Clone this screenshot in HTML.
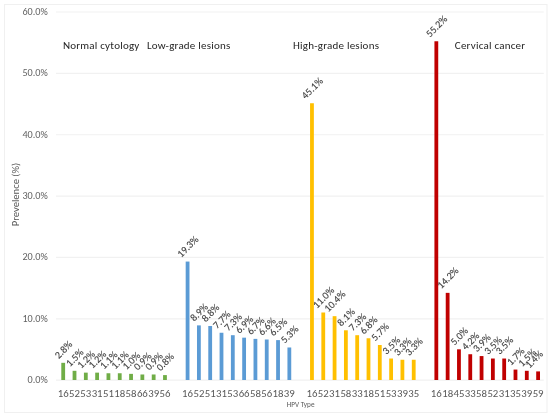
<!DOCTYPE html><html><head><meta charset="utf-8"><style>html,body{margin:0;padding:0;background:#fff;width:550px;height:417px;overflow:hidden}svg{display:block}text{font-family:Carlito,"Liberation Sans",sans-serif}</style></head><body>
<svg width="550" height="417" viewBox="0 0 550 417">
<rect x="0" y="0" width="550" height="417" fill="#fff"/>
<rect x="4.5" y="4.5" width="542.5" height="408" fill="none" stroke="#f0f0f0" stroke-width="1.1"/>
<line x1="56" x2="543.75" y1="380.20" y2="380.20" stroke="#f1f1f1" stroke-width="1.2"/>
<line x1="56" x2="543.75" y1="318.83" y2="318.83" stroke="#f1f1f1" stroke-width="1.2"/>
<line x1="56" x2="543.75" y1="257.47" y2="257.47" stroke="#f1f1f1" stroke-width="1.2"/>
<line x1="56" x2="543.75" y1="196.10" y2="196.10" stroke="#f1f1f1" stroke-width="1.2"/>
<line x1="56" x2="543.75" y1="134.73" y2="134.73" stroke="#f1f1f1" stroke-width="1.2"/>
<line x1="56" x2="543.75" y1="73.37" y2="73.37" stroke="#f1f1f1" stroke-width="1.2"/>
<line x1="56" x2="543.75" y1="12.00" y2="12.00" stroke="#f1f1f1" stroke-width="1.2"/>
<text x="47.8" y="383.00" font-size="10.2" fill="#636363" text-anchor="end" textLength="20.19" lengthAdjust="spacingAndGlyphs">0.0%</text>
<text x="47.8" y="321.63" font-size="10.2" fill="#636363" text-anchor="end" textLength="25.36" lengthAdjust="spacingAndGlyphs">10.0%</text>
<text x="47.8" y="260.27" font-size="10.2" fill="#636363" text-anchor="end" textLength="25.36" lengthAdjust="spacingAndGlyphs">20.0%</text>
<text x="47.8" y="198.90" font-size="10.2" fill="#636363" text-anchor="end" textLength="25.36" lengthAdjust="spacingAndGlyphs">30.0%</text>
<text x="47.8" y="137.53" font-size="10.2" fill="#636363" text-anchor="end" textLength="25.36" lengthAdjust="spacingAndGlyphs">40.0%</text>
<text x="47.8" y="76.17" font-size="10.2" fill="#636363" text-anchor="end" textLength="25.36" lengthAdjust="spacingAndGlyphs">50.0%</text>
<text x="47.8" y="14.80" font-size="10.2" fill="#636363" text-anchor="end" textLength="25.36" lengthAdjust="spacingAndGlyphs">60.0%</text>
<rect x="61.30" y="362.82" width="3.8" height="17.18" fill="#70AD47"/>
<text x="63.20" y="396.8" font-size="10.8" fill="#595959" text-anchor="middle" textLength="10.95" lengthAdjust="spacingAndGlyphs">16</text>
<text class="dl" transform="translate(63.50,349.75) rotate(-45)" x="0" y="3.28" font-size="10.2" fill="#404040" stroke="#404040" stroke-width="0.12" text-anchor="middle" textLength="20.19" lengthAdjust="spacingAndGlyphs">2.8%</text>
<rect x="72.61" y="370.80" width="3.8" height="9.20" fill="#70AD47"/>
<text x="74.51" y="396.8" font-size="10.8" fill="#595959" text-anchor="middle" textLength="10.95" lengthAdjust="spacingAndGlyphs">52</text>
<text class="dl" transform="translate(74.81,357.73) rotate(-45)" x="0" y="3.28" font-size="10.2" fill="#404040" stroke="#404040" stroke-width="0.12" text-anchor="middle" textLength="20.19" lengthAdjust="spacingAndGlyphs">1.5%</text>
<rect x="83.92" y="372.64" width="3.8" height="7.36" fill="#70AD47"/>
<text x="85.82" y="396.8" font-size="10.8" fill="#595959" text-anchor="middle" textLength="10.95" lengthAdjust="spacingAndGlyphs">53</text>
<text class="dl" transform="translate(86.12,359.57) rotate(-45)" x="0" y="3.28" font-size="10.2" fill="#404040" stroke="#404040" stroke-width="0.12" text-anchor="middle" textLength="20.19" lengthAdjust="spacingAndGlyphs">1.2%</text>
<rect x="95.22" y="372.64" width="3.8" height="7.36" fill="#70AD47"/>
<text x="97.12" y="396.8" font-size="10.8" fill="#595959" text-anchor="middle" textLength="10.95" lengthAdjust="spacingAndGlyphs">31</text>
<text class="dl" transform="translate(97.42,359.57) rotate(-45)" x="0" y="3.28" font-size="10.2" fill="#404040" stroke="#404040" stroke-width="0.12" text-anchor="middle" textLength="20.19" lengthAdjust="spacingAndGlyphs">1.2%</text>
<rect x="106.53" y="373.25" width="3.8" height="6.75" fill="#70AD47"/>
<text x="108.43" y="396.8" font-size="10.8" fill="#595959" text-anchor="middle" textLength="10.95" lengthAdjust="spacingAndGlyphs">51</text>
<text class="dl" transform="translate(108.73,360.18) rotate(-45)" x="0" y="3.28" font-size="10.2" fill="#404040" stroke="#404040" stroke-width="0.12" text-anchor="middle" textLength="20.19" lengthAdjust="spacingAndGlyphs">1.1%</text>
<rect x="117.84" y="373.25" width="3.8" height="6.75" fill="#70AD47"/>
<text x="119.74" y="396.8" font-size="10.8" fill="#595959" text-anchor="middle" textLength="10.95" lengthAdjust="spacingAndGlyphs">18</text>
<text class="dl" transform="translate(120.04,360.18) rotate(-45)" x="0" y="3.28" font-size="10.2" fill="#404040" stroke="#404040" stroke-width="0.12" text-anchor="middle" textLength="20.19" lengthAdjust="spacingAndGlyphs">1.1%</text>
<rect x="129.15" y="373.86" width="3.8" height="6.14" fill="#70AD47"/>
<text x="131.05" y="396.8" font-size="10.8" fill="#595959" text-anchor="middle" textLength="10.95" lengthAdjust="spacingAndGlyphs">58</text>
<text class="dl" transform="translate(131.35,360.80) rotate(-45)" x="0" y="3.28" font-size="10.2" fill="#404040" stroke="#404040" stroke-width="0.12" text-anchor="middle" textLength="20.19" lengthAdjust="spacingAndGlyphs">1.0%</text>
<rect x="140.45" y="374.48" width="3.8" height="5.52" fill="#70AD47"/>
<text x="142.35" y="396.8" font-size="10.8" fill="#595959" text-anchor="middle" textLength="10.95" lengthAdjust="spacingAndGlyphs">66</text>
<text class="dl" transform="translate(142.65,361.41) rotate(-45)" x="0" y="3.28" font-size="10.2" fill="#404040" stroke="#404040" stroke-width="0.12" text-anchor="middle" textLength="20.19" lengthAdjust="spacingAndGlyphs">0.9%</text>
<rect x="151.76" y="374.48" width="3.8" height="5.52" fill="#70AD47"/>
<text x="153.66" y="396.8" font-size="10.8" fill="#595959" text-anchor="middle" textLength="10.95" lengthAdjust="spacingAndGlyphs">39</text>
<text class="dl" transform="translate(153.96,361.41) rotate(-45)" x="0" y="3.28" font-size="10.2" fill="#404040" stroke="#404040" stroke-width="0.12" text-anchor="middle" textLength="20.19" lengthAdjust="spacingAndGlyphs">0.9%</text>
<rect x="163.07" y="375.09" width="3.8" height="4.91" fill="#70AD47"/>
<text x="164.97" y="396.8" font-size="10.8" fill="#595959" text-anchor="middle" textLength="10.95" lengthAdjust="spacingAndGlyphs">56</text>
<text class="dl" transform="translate(165.27,362.02) rotate(-45)" x="0" y="3.28" font-size="10.2" fill="#404040" stroke="#404040" stroke-width="0.12" text-anchor="middle" textLength="20.19" lengthAdjust="spacingAndGlyphs">0.8%</text>
<rect x="185.68" y="261.56" width="3.8" height="118.44" fill="#5B9BD5"/>
<text x="187.58" y="396.8" font-size="10.8" fill="#595959" text-anchor="middle" textLength="10.95" lengthAdjust="spacingAndGlyphs">16</text>
<text class="dl" transform="translate(187.88,246.67) rotate(-45)" x="0" y="3.28" font-size="10.2" fill="#404040" stroke="#404040" stroke-width="0.12" text-anchor="middle" textLength="25.36" lengthAdjust="spacingAndGlyphs">19.3%</text>
<rect x="196.99" y="325.38" width="3.8" height="54.62" fill="#5B9BD5"/>
<text x="198.89" y="396.8" font-size="10.8" fill="#595959" text-anchor="middle" textLength="10.95" lengthAdjust="spacingAndGlyphs">52</text>
<text class="dl" transform="translate(199.19,312.32) rotate(-45)" x="0" y="3.28" font-size="10.2" fill="#404040" stroke="#404040" stroke-width="0.12" text-anchor="middle" textLength="20.19" lengthAdjust="spacingAndGlyphs">8.9%</text>
<rect x="208.29" y="326.00" width="3.8" height="54.00" fill="#5B9BD5"/>
<text x="210.19" y="396.8" font-size="10.8" fill="#595959" text-anchor="middle" textLength="10.95" lengthAdjust="spacingAndGlyphs">51</text>
<text class="dl" transform="translate(210.49,312.93) rotate(-45)" x="0" y="3.28" font-size="10.2" fill="#404040" stroke="#404040" stroke-width="0.12" text-anchor="middle" textLength="20.19" lengthAdjust="spacingAndGlyphs">8.8%</text>
<rect x="219.60" y="332.75" width="3.8" height="47.25" fill="#5B9BD5"/>
<text x="221.50" y="396.8" font-size="10.8" fill="#595959" text-anchor="middle" textLength="10.95" lengthAdjust="spacingAndGlyphs">31</text>
<text class="dl" transform="translate(221.80,319.68) rotate(-45)" x="0" y="3.28" font-size="10.2" fill="#404040" stroke="#404040" stroke-width="0.12" text-anchor="middle" textLength="20.19" lengthAdjust="spacingAndGlyphs">7.7%</text>
<rect x="230.91" y="335.20" width="3.8" height="44.80" fill="#5B9BD5"/>
<text x="232.81" y="396.8" font-size="10.8" fill="#595959" text-anchor="middle" textLength="10.95" lengthAdjust="spacingAndGlyphs">53</text>
<text class="dl" transform="translate(233.11,322.14) rotate(-45)" x="0" y="3.28" font-size="10.2" fill="#404040" stroke="#404040" stroke-width="0.12" text-anchor="middle" textLength="20.19" lengthAdjust="spacingAndGlyphs">7.3%</text>
<rect x="242.22" y="337.66" width="3.8" height="42.34" fill="#5B9BD5"/>
<text x="244.12" y="396.8" font-size="10.8" fill="#595959" text-anchor="middle" textLength="10.95" lengthAdjust="spacingAndGlyphs">66</text>
<text class="dl" transform="translate(244.42,324.59) rotate(-45)" x="0" y="3.28" font-size="10.2" fill="#404040" stroke="#404040" stroke-width="0.12" text-anchor="middle" textLength="20.19" lengthAdjust="spacingAndGlyphs">6.9%</text>
<rect x="253.52" y="338.88" width="3.8" height="41.12" fill="#5B9BD5"/>
<text x="255.42" y="396.8" font-size="10.8" fill="#595959" text-anchor="middle" textLength="10.95" lengthAdjust="spacingAndGlyphs">58</text>
<text class="dl" transform="translate(255.72,325.82) rotate(-45)" x="0" y="3.28" font-size="10.2" fill="#404040" stroke="#404040" stroke-width="0.12" text-anchor="middle" textLength="20.19" lengthAdjust="spacingAndGlyphs">6.7%</text>
<rect x="264.83" y="339.50" width="3.8" height="40.50" fill="#5B9BD5"/>
<text x="266.73" y="396.8" font-size="10.8" fill="#595959" text-anchor="middle" textLength="10.95" lengthAdjust="spacingAndGlyphs">56</text>
<text class="dl" transform="translate(267.03,326.43) rotate(-45)" x="0" y="3.28" font-size="10.2" fill="#404040" stroke="#404040" stroke-width="0.12" text-anchor="middle" textLength="20.19" lengthAdjust="spacingAndGlyphs">6.6%</text>
<rect x="276.14" y="340.11" width="3.8" height="39.89" fill="#5B9BD5"/>
<text x="278.04" y="396.8" font-size="10.8" fill="#595959" text-anchor="middle" textLength="10.95" lengthAdjust="spacingAndGlyphs">18</text>
<text class="dl" transform="translate(278.34,327.05) rotate(-45)" x="0" y="3.28" font-size="10.2" fill="#404040" stroke="#404040" stroke-width="0.12" text-anchor="middle" textLength="20.19" lengthAdjust="spacingAndGlyphs">6.5%</text>
<rect x="287.44" y="347.48" width="3.8" height="32.52" fill="#5B9BD5"/>
<text x="289.34" y="396.8" font-size="10.8" fill="#595959" text-anchor="middle" textLength="10.95" lengthAdjust="spacingAndGlyphs">39</text>
<text class="dl" transform="translate(289.64,334.41) rotate(-45)" x="0" y="3.28" font-size="10.2" fill="#404040" stroke="#404040" stroke-width="0.12" text-anchor="middle" textLength="20.19" lengthAdjust="spacingAndGlyphs">5.3%</text>
<rect x="310.06" y="103.24" width="3.8" height="276.76" fill="#FFC000"/>
<text x="311.96" y="396.8" font-size="10.8" fill="#595959" text-anchor="middle" textLength="10.95" lengthAdjust="spacingAndGlyphs">16</text>
<text class="dl" transform="translate(312.26,88.34) rotate(-45)" x="0" y="3.28" font-size="10.2" fill="#404040" stroke="#404040" stroke-width="0.12" text-anchor="middle" textLength="25.36" lengthAdjust="spacingAndGlyphs">45.1%</text>
<rect x="321.36" y="312.50" width="3.8" height="67.50" fill="#FFC000"/>
<text x="323.26" y="396.8" font-size="10.8" fill="#595959" text-anchor="middle" textLength="10.95" lengthAdjust="spacingAndGlyphs">52</text>
<text class="dl" transform="translate(323.56,297.60) rotate(-45)" x="0" y="3.28" font-size="10.2" fill="#404040" stroke="#404040" stroke-width="0.12" text-anchor="middle" textLength="25.36" lengthAdjust="spacingAndGlyphs">11.0%</text>
<rect x="332.67" y="316.18" width="3.8" height="63.82" fill="#FFC000"/>
<text x="334.57" y="396.8" font-size="10.8" fill="#595959" text-anchor="middle" textLength="10.95" lengthAdjust="spacingAndGlyphs">31</text>
<text class="dl" transform="translate(334.87,301.28) rotate(-45)" x="0" y="3.28" font-size="10.2" fill="#404040" stroke="#404040" stroke-width="0.12" text-anchor="middle" textLength="25.36" lengthAdjust="spacingAndGlyphs">10.4%</text>
<rect x="343.98" y="330.29" width="3.8" height="49.71" fill="#FFC000"/>
<text x="345.88" y="396.8" font-size="10.8" fill="#595959" text-anchor="middle" textLength="10.95" lengthAdjust="spacingAndGlyphs">58</text>
<text class="dl" transform="translate(346.18,317.23) rotate(-45)" x="0" y="3.28" font-size="10.2" fill="#404040" stroke="#404040" stroke-width="0.12" text-anchor="middle" textLength="20.19" lengthAdjust="spacingAndGlyphs">8.1%</text>
<rect x="355.29" y="335.20" width="3.8" height="44.80" fill="#FFC000"/>
<text x="357.19" y="396.8" font-size="10.8" fill="#595959" text-anchor="middle" textLength="10.95" lengthAdjust="spacingAndGlyphs">33</text>
<text class="dl" transform="translate(357.49,322.14) rotate(-45)" x="0" y="3.28" font-size="10.2" fill="#404040" stroke="#404040" stroke-width="0.12" text-anchor="middle" textLength="20.19" lengthAdjust="spacingAndGlyphs">7.3%</text>
<rect x="366.59" y="338.27" width="3.8" height="41.73" fill="#FFC000"/>
<text x="368.49" y="396.8" font-size="10.8" fill="#595959" text-anchor="middle" textLength="10.95" lengthAdjust="spacingAndGlyphs">18</text>
<text class="dl" transform="translate(368.79,325.20) rotate(-45)" x="0" y="3.28" font-size="10.2" fill="#404040" stroke="#404040" stroke-width="0.12" text-anchor="middle" textLength="20.19" lengthAdjust="spacingAndGlyphs">6.8%</text>
<rect x="377.90" y="345.02" width="3.8" height="34.98" fill="#FFC000"/>
<text x="379.80" y="396.8" font-size="10.8" fill="#595959" text-anchor="middle" textLength="10.95" lengthAdjust="spacingAndGlyphs">51</text>
<text class="dl" transform="translate(380.10,331.95) rotate(-45)" x="0" y="3.28" font-size="10.2" fill="#404040" stroke="#404040" stroke-width="0.12" text-anchor="middle" textLength="20.19" lengthAdjust="spacingAndGlyphs">5.7%</text>
<rect x="389.21" y="358.52" width="3.8" height="21.48" fill="#FFC000"/>
<text x="391.11" y="396.8" font-size="10.8" fill="#595959" text-anchor="middle" textLength="10.95" lengthAdjust="spacingAndGlyphs">53</text>
<text class="dl" transform="translate(391.41,345.46) rotate(-45)" x="0" y="3.28" font-size="10.2" fill="#404040" stroke="#404040" stroke-width="0.12" text-anchor="middle" textLength="20.19" lengthAdjust="spacingAndGlyphs">3.5%</text>
<rect x="400.51" y="359.75" width="3.8" height="20.25" fill="#FFC000"/>
<text x="402.41" y="396.8" font-size="10.8" fill="#595959" text-anchor="middle" textLength="10.95" lengthAdjust="spacingAndGlyphs">39</text>
<text class="dl" transform="translate(402.71,346.68) rotate(-45)" x="0" y="3.28" font-size="10.2" fill="#404040" stroke="#404040" stroke-width="0.12" text-anchor="middle" textLength="20.19" lengthAdjust="spacingAndGlyphs">3.3%</text>
<rect x="411.82" y="359.75" width="3.8" height="20.25" fill="#FFC000"/>
<text x="413.72" y="396.8" font-size="10.8" fill="#595959" text-anchor="middle" textLength="10.95" lengthAdjust="spacingAndGlyphs">35</text>
<text class="dl" transform="translate(414.02,346.68) rotate(-45)" x="0" y="3.28" font-size="10.2" fill="#404040" stroke="#404040" stroke-width="0.12" text-anchor="middle" textLength="20.19" lengthAdjust="spacingAndGlyphs">3.3%</text>
<rect x="434.43" y="41.26" width="3.8" height="338.74" fill="#C00000"/>
<text x="436.33" y="396.8" font-size="10.8" fill="#595959" text-anchor="middle" textLength="10.95" lengthAdjust="spacingAndGlyphs">16</text>
<text class="dl" transform="translate(436.63,26.36) rotate(-45)" x="0" y="3.28" font-size="10.2" fill="#404040" stroke="#404040" stroke-width="0.12" text-anchor="middle" textLength="25.36" lengthAdjust="spacingAndGlyphs">55.2%</text>
<rect x="445.74" y="292.86" width="3.8" height="87.14" fill="#C00000"/>
<text x="447.64" y="396.8" font-size="10.8" fill="#595959" text-anchor="middle" textLength="10.95" lengthAdjust="spacingAndGlyphs">18</text>
<text class="dl" transform="translate(447.94,277.96) rotate(-45)" x="0" y="3.28" font-size="10.2" fill="#404040" stroke="#404040" stroke-width="0.12" text-anchor="middle" textLength="25.36" lengthAdjust="spacingAndGlyphs">14.2%</text>
<rect x="457.05" y="349.32" width="3.8" height="30.68" fill="#C00000"/>
<text x="458.95" y="396.8" font-size="10.8" fill="#595959" text-anchor="middle" textLength="10.95" lengthAdjust="spacingAndGlyphs">45</text>
<text class="dl" transform="translate(459.25,336.25) rotate(-45)" x="0" y="3.28" font-size="10.2" fill="#404040" stroke="#404040" stroke-width="0.12" text-anchor="middle" textLength="20.19" lengthAdjust="spacingAndGlyphs">5.0%</text>
<rect x="468.36" y="354.23" width="3.8" height="25.77" fill="#C00000"/>
<text x="470.26" y="396.8" font-size="10.8" fill="#595959" text-anchor="middle" textLength="10.95" lengthAdjust="spacingAndGlyphs">33</text>
<text class="dl" transform="translate(470.56,341.16) rotate(-45)" x="0" y="3.28" font-size="10.2" fill="#404040" stroke="#404040" stroke-width="0.12" text-anchor="middle" textLength="20.19" lengthAdjust="spacingAndGlyphs">4.2%</text>
<rect x="479.66" y="356.07" width="3.8" height="23.93" fill="#C00000"/>
<text x="481.56" y="396.8" font-size="10.8" fill="#595959" text-anchor="middle" textLength="10.95" lengthAdjust="spacingAndGlyphs">58</text>
<text class="dl" transform="translate(481.86,343.00) rotate(-45)" x="0" y="3.28" font-size="10.2" fill="#404040" stroke="#404040" stroke-width="0.12" text-anchor="middle" textLength="20.19" lengthAdjust="spacingAndGlyphs">3.9%</text>
<rect x="490.97" y="358.52" width="3.8" height="21.48" fill="#C00000"/>
<text x="492.87" y="396.8" font-size="10.8" fill="#595959" text-anchor="middle" textLength="10.95" lengthAdjust="spacingAndGlyphs">52</text>
<text class="dl" transform="translate(493.17,345.46) rotate(-45)" x="0" y="3.28" font-size="10.2" fill="#404040" stroke="#404040" stroke-width="0.12" text-anchor="middle" textLength="20.19" lengthAdjust="spacingAndGlyphs">3.5%</text>
<rect x="502.28" y="358.52" width="3.8" height="21.48" fill="#C00000"/>
<text x="504.18" y="396.8" font-size="10.8" fill="#595959" text-anchor="middle" textLength="10.95" lengthAdjust="spacingAndGlyphs">31</text>
<text class="dl" transform="translate(504.48,345.46) rotate(-45)" x="0" y="3.28" font-size="10.2" fill="#404040" stroke="#404040" stroke-width="0.12" text-anchor="middle" textLength="20.19" lengthAdjust="spacingAndGlyphs">3.5%</text>
<rect x="513.58" y="369.57" width="3.8" height="10.43" fill="#C00000"/>
<text x="515.48" y="396.8" font-size="10.8" fill="#595959" text-anchor="middle" textLength="10.95" lengthAdjust="spacingAndGlyphs">35</text>
<text class="dl" transform="translate(515.78,356.50) rotate(-45)" x="0" y="3.28" font-size="10.2" fill="#404040" stroke="#404040" stroke-width="0.12" text-anchor="middle" textLength="20.19" lengthAdjust="spacingAndGlyphs">1.7%</text>
<rect x="524.89" y="370.80" width="3.8" height="9.20" fill="#C00000"/>
<text x="526.79" y="396.8" font-size="10.8" fill="#595959" text-anchor="middle" textLength="10.95" lengthAdjust="spacingAndGlyphs">39</text>
<text class="dl" transform="translate(527.09,357.73) rotate(-45)" x="0" y="3.28" font-size="10.2" fill="#404040" stroke="#404040" stroke-width="0.12" text-anchor="middle" textLength="20.19" lengthAdjust="spacingAndGlyphs">1.5%</text>
<rect x="536.20" y="371.41" width="3.8" height="8.59" fill="#C00000"/>
<text x="538.10" y="396.8" font-size="10.8" fill="#595959" text-anchor="middle" textLength="10.95" lengthAdjust="spacingAndGlyphs">59</text>
<text class="dl" transform="translate(534.20,359.34) rotate(-45)" x="0" y="3.28" font-size="10.2" fill="#404040" stroke="#404040" stroke-width="0.12" text-anchor="middle" textLength="20.19" lengthAdjust="spacingAndGlyphs">1.4%</text>
<text class="tt" x="62.9" y="49.2" font-size="11.0" letter-spacing="0.22" fill="#262626" textLength="76.66" lengthAdjust="spacingAndGlyphs">Normal cytology</text>
<text class="tt" x="146.9" y="49.2" font-size="11.0" letter-spacing="0.22" fill="#262626" textLength="83.62" lengthAdjust="spacingAndGlyphs">Low-grade lesions</text>
<text class="tt" x="293" y="49.2" font-size="11.0" letter-spacing="0.22" fill="#262626" textLength="86.17" lengthAdjust="spacingAndGlyphs">High-grade lesions</text>
<text class="tt" x="454.8" y="49.2" font-size="11.0" letter-spacing="0.22" fill="#262626" textLength="70.48" lengthAdjust="spacingAndGlyphs">Cervical cancer</text>
<text x="300.65" y="407" font-size="7.2" fill="#595959" text-anchor="middle" textLength="27.64" lengthAdjust="spacingAndGlyphs">HPV Type</text>
<text transform="translate(19.2,194.5) rotate(-90)" x="0" y="0" font-size="10.6" fill="#595959" text-anchor="middle" textLength="63.61" lengthAdjust="spacingAndGlyphs">Prevelence (%)</text>
</svg></body></html>
